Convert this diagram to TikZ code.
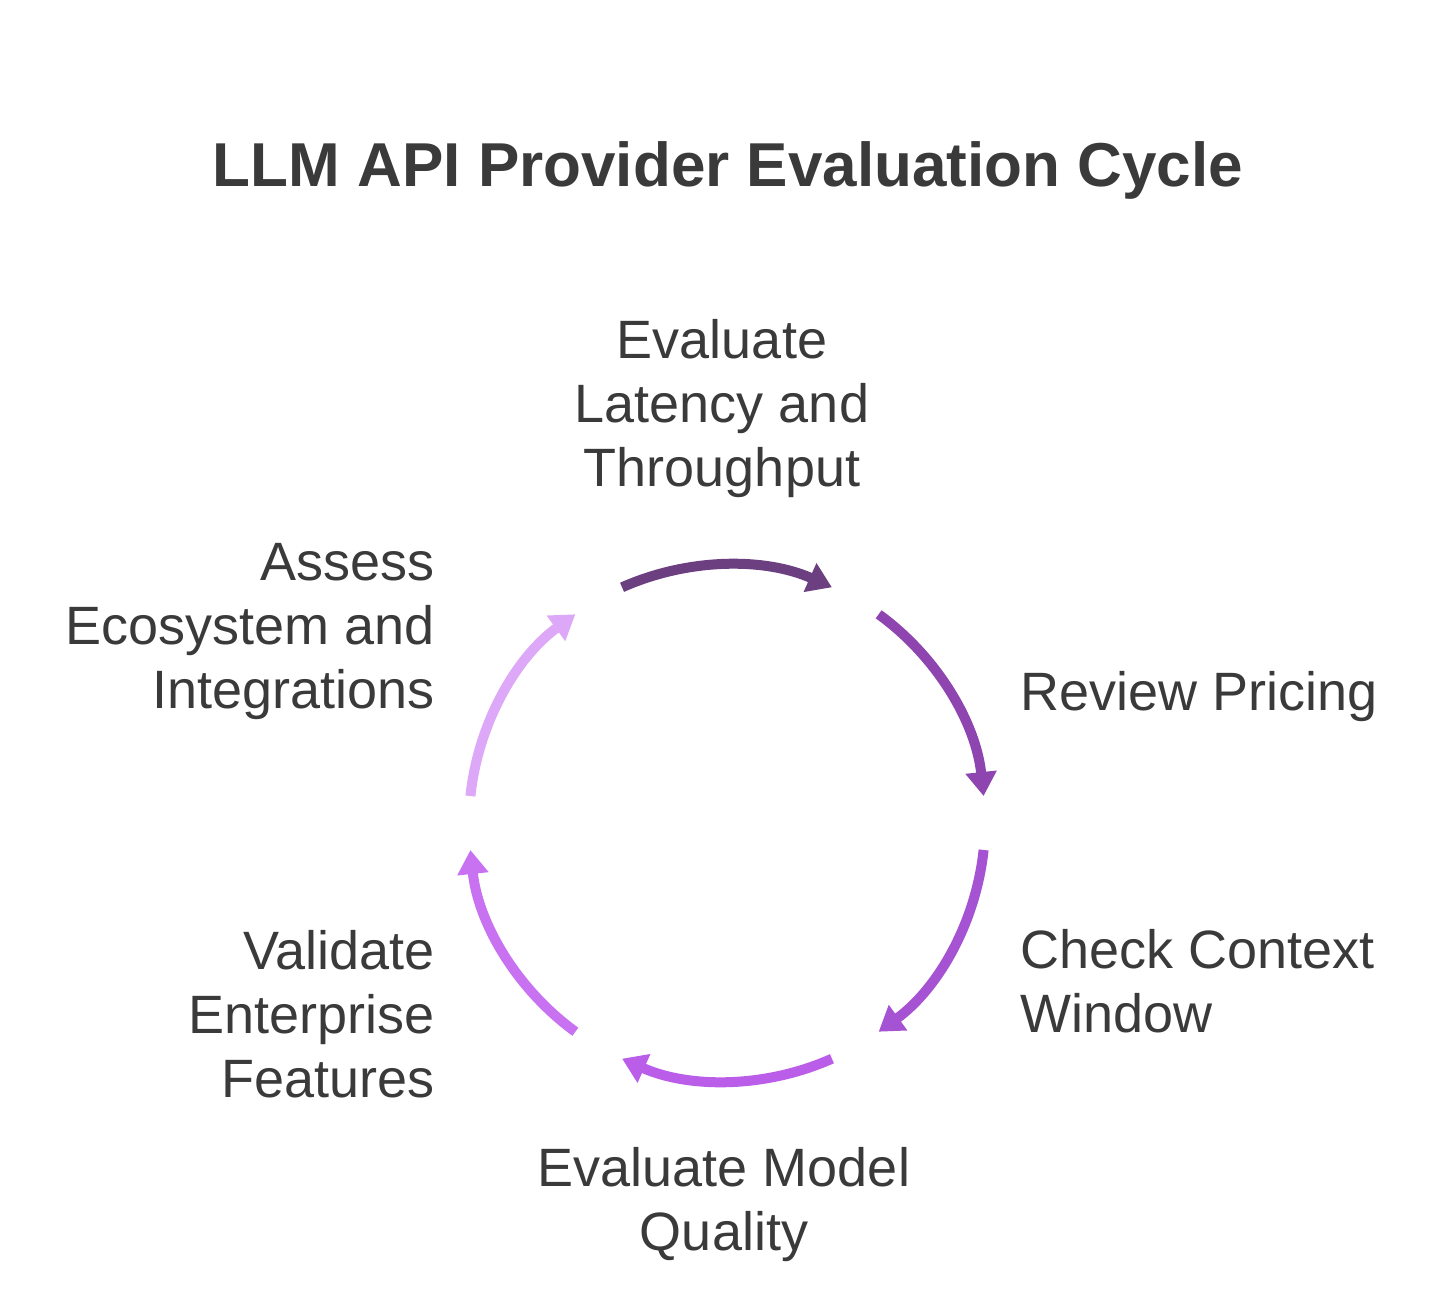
\documentclass[tikz,border=0pt]{standalone}
\usepackage{fontspec}
\setmainfont{Liberation Sans}
\usetikzlibrary{arrows.meta,calc}
\definecolor{c1}{HTML}{6B3F80}
\definecolor{c2}{HTML}{8E45B0}
\definecolor{c3}{HTML}{A653D3}
\definecolor{c4}{HTML}{BA5EEA}
\definecolor{c5}{HTML}{C872F2}
\definecolor{c6}{HTML}{DDA8F7}
\definecolor{txt}{HTML}{3A3A3A}
\begin{document}
\begin{tikzpicture}[x=0.5pt,y=-0.5pt,
  lbl/.style={text=txt,font=\fontsize{27}{32}\selectfont,inner sep=0pt},
  cyc/.style={line width=5pt,-{Triangle[length=12pt,width=15pt]}}]
\useasboundingbox (0,0) rectangle (1456,1311);
\node[text=txt,font=\fontsize{31}{40}\selectfont\bfseries] (title) at (728,170) {LLM API Provider Evaluation Cycle};
\coordinate (c) at (727,823);
\foreach \s/\col in {114/c1,54/c2,-6/c3,-66/c4,-126/c5,174/c6}{
  \draw[cyc,\col] ($(c)+(\s:258 and -258)$) arc[start angle=\s,delta angle=-48,x radius=258,y radius=-258];
}
\node[lbl,align=center] (n1) at (722,409) {Evaluate\\Latency and\\Throughput};
\node[lbl,anchor=west] (n2) at (1020,697) {Review Pricing};
\node[lbl,anchor=west,align=left] (n3) at (1020,981) {Check Context\\Window};
\node[lbl,align=center] (n4) at (724,1205) {Evaluate Model\\Quality};
\node[lbl,anchor=east,align=right] (n5) at (435,1014) {Validate\\Enterprise\\Features};
\node[lbl,anchor=east,align=right] (n6) at (435,632) {Assess\\Ecosystem and\\Integrations};
\end{tikzpicture}
\end{document}
